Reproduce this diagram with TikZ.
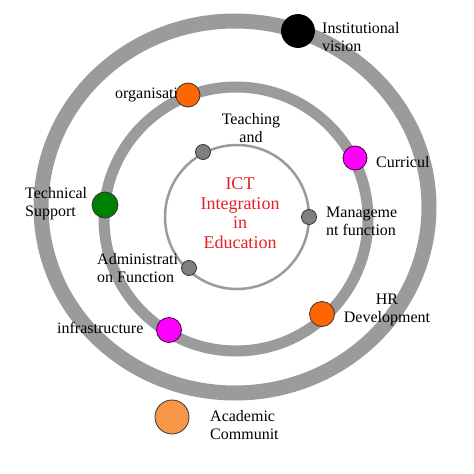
\documentclass[tikz,border=0pt]{standalone}
\usepackage{fontspec}
\setmainfont{Liberation Serif}
\definecolor{ringgray}{RGB}{155,155,155}
\definecolor{dotgray}{RGB}{128,128,128}
\definecolor{orgorange}{RGB}{255,102,0}
\definecolor{acorange}{RGB}{247,150,70}
\definecolor{mag}{RGB}{255,0,255}
\definecolor{dkgreen}{RGB}{0,128,0}
\definecolor{ictred}{RGB}{232,30,40}
\begin{document}
\begin{tikzpicture}[x=1pt,y=-1pt,
  dot/.style={circle,draw=black!80,line width=0.8pt,inner sep=0pt},
  lbl/.style={inner sep=0pt,font=\fontsize{16}{18}\selectfont},
  lbll/.style={lbl,align=left,anchor=west},
  lblc/.style={lbl,align=center},
  ict/.style={inner sep=0pt,align=center,text=ictred,font=\fontsize{18}{19.5}\selectfont}]
\useasboundingbox (0,0) rectangle (474,474);
% rings
\draw[ringgray,line width=15pt] (235,207) ellipse [x radius=194, y radius=186];
\draw[ringgray,line width=11pt] (236,219) circle [radius=132];
\draw[ringgray,line width=2.5pt] (237,217) circle [radius=72];
% labels
\node[lbll] (tinst) at (322,37) {Institutional\\vision};
\node[lbll] (torg) at (115,95) {organisati};
\node[lblc] (tteach) at (251,128) {Teaching\\and};
\node[lbll] (tcur) at (376,162) {Curricul};
\node[lbll] (ttech) at (25,204) {Technical\\Support};
\node[lbll] (tman) at (326,221) {Manageme\\nt function};
\node[lbll] (tadm) at (97,268) {Administrati\\on Function};
\node[ict] (tict) at (240,213) {ICT\\Integration\\in\\Education};
\node[lblc] (thr) at (387,310) {HR\\Development};
\node[lbll] (tinf) at (57,328) {infrastructure};
\node[lbll] (tac) at (210,425) {Academic\\Communit};
% dots
\node[dot,fill=black,draw=black,minimum size=33pt] (dinst) at (298,31) {};
\node[dot,fill=orgorange,minimum size=24pt] (dorg) at (188,95) {};
\node[dot,fill=mag,draw=black!60!mag!60!black,minimum size=24pt] (dcur) at (355,158) {};
\node[dot,fill=dkgreen,minimum size=26pt] (dtech) at (105,205) {};
\node[dot,fill=orgorange,minimum size=25pt] (dhr) at (322,314) {};
\node[dot,fill=mag,draw=black!60!mag!60!black,minimum size=25pt] (dinf) at (169,330) {};
\node[dot,fill=acorange,minimum size=34pt] (dac) at (172,417) {};
\node[dot,fill=dotgray,minimum size=15pt] (dteach) at (203,152) {};
\node[dot,fill=dotgray,minimum size=15pt] (dman) at (309,217) {};
\node[dot,fill=dotgray,minimum size=15pt] (dadm) at (189,268) {};
\end{tikzpicture}
\end{document}
